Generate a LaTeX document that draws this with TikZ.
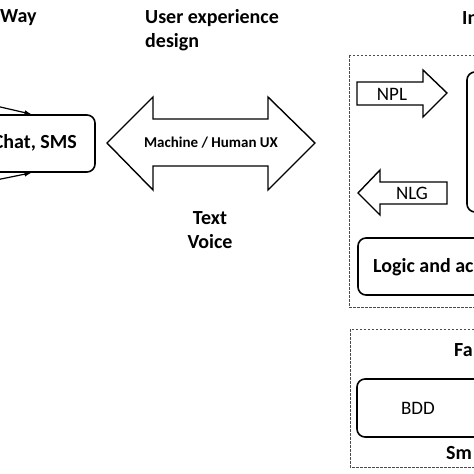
\documentclass[tikz,border=0pt]{standalone}
\usepackage{fontspec}
\setmainfont{Carlito}
\usetikzlibrary{arrows.meta}

\tikzset{
    roundbox/.style={draw=black, line width=1.6pt, rounded corners=8pt, inner sep=0pt},
    blockarrow/.style={draw=black, line width=1.4pt, line join=miter, fill=white},
    groupbox/.style={draw=black!70, line width=0.8pt, dash pattern=on 2.5pt off 1.5pt},
    inarrow/.style={draw=black, line width=1.2pt, -{Latex[length=7pt, width=5pt]}},
    heading/.style={font=\bfseries\fontsize{20}{24}\selectfont, inner sep=0pt},
    smallhead/.style={font=\bfseries\fontsize{15}{18}\selectfont, inner sep=0pt},
    plaintext/.style={font=\fontsize{19}{22}\selectfont, inner sep=0pt},
}

\begin{document}
\begin{tikzpicture}[x=1pt, y=-1pt]
        \useasboundingbox (0,0) rectangle (474,474);
        % left part
        \node[heading, anchor=west] (way) at (0, 18) {Way};
        \node[roundbox, minimum width=155pt, minimum height=57pt] (chat) at (17.5, 143.5) {};
        \node[heading, anchor=east] (chattxt) at (77, 143) {Chat, SMS};
        \coordinate (src1) at (-4, 106);
        \coordinate (src2) at (-4, 180);
        \draw[inarrow] (src1) -- ([xshift=14pt]chat.north);
        \draw[inarrow] (src2) -- ([xshift=14pt]chat.south);
        % middle part
        \node[heading, anchor=north west, align=left] (uxd) at (145, 9) {User experience\\design};
        \draw[blockarrow] (107,143) -- (153,97) -- (153,119) -- (268,119) -- (268,97)
            -- (315,143) -- (268,190) -- (268,166) -- (153,166) -- (153,190) -- cycle;
        \node[smallhead] (ux) at (211, 143) {Machine / Human UX};
        \node[heading, align=center] (media) at (210, 230) {Text\\Voice};
        % right part
        \node[heading, anchor=west] (intel) at (462, 18) {In};
        \draw[groupbox] (349,55) rectangle (490,307);
        \draw[blockarrow] (357,82) -- (423,82) -- (423,70) -- (447,93) -- (423,117)
            -- (423,105) -- (357,105) -- cycle;
        \node[plaintext] (npl) at (392, 94) {NPL};
        \draw[blockarrow] (447,182) -- (380,182) -- (380,170) -- (358,193) -- (380,215)
            -- (380,204) -- (447,204) -- cycle;
        \node[plaintext] (nlg) at (412, 193) {NLG};
        \node[roundbox, minimum width=60pt, minimum height=140pt] (engine) at (497, 142) {};
        \node[roundbox, minimum width=170pt, minimum height=57pt] (logic) at (443, 266.5) {};
        \node[heading, anchor=west] (logictxt) at (373, 267) {Logic and ac};
        \draw[groupbox] (350,329) rectangle (490,467);
        \node[heading, anchor=west] (fa) at (454, 350) {Fa};
        \node[roundbox, minimum width=170pt, minimum height=58pt] (bdd) at (442, 408) {};
        \node[plaintext] (bddtxt) at (418, 408) {BDD};
        \node[heading, anchor=west] (sm) at (446, 453) {Sm};
    \end{tikzpicture}
\end{document}
